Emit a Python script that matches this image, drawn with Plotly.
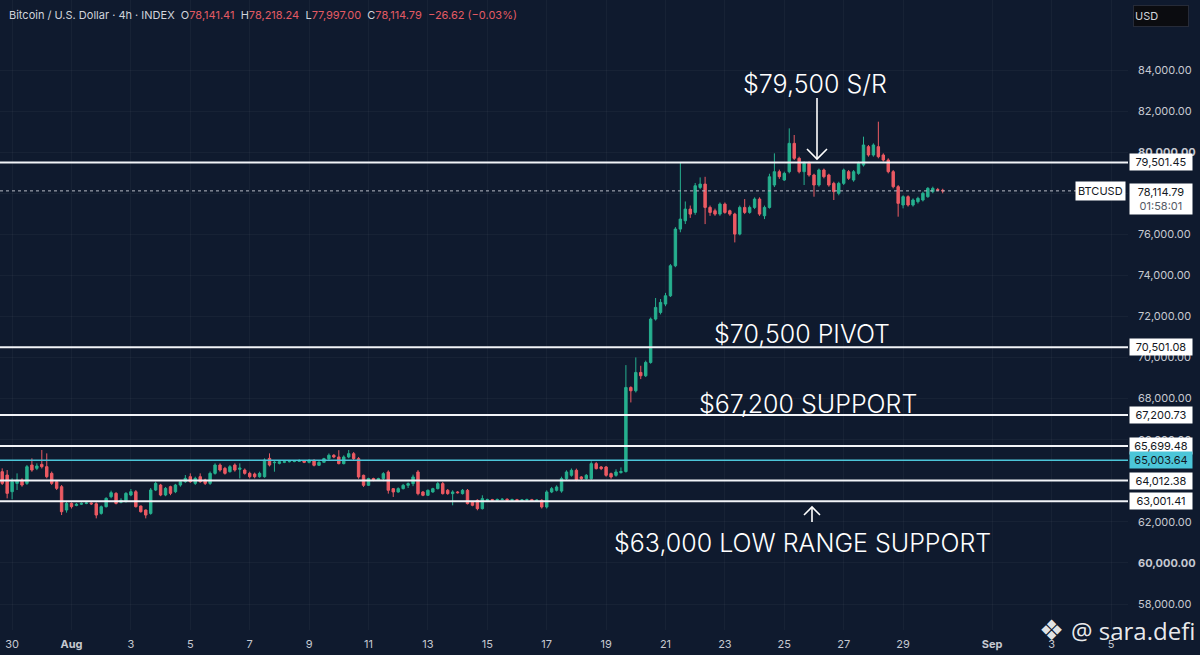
import pandas as pd
import plotly.graph_objects as go

# 4h BTCUSD candles, first bar Jul 29 16:00
opens = [64443, 64280, 63469, 63875, 64037, 63875, 64768, 64606, 64800, 64687,
         64362, 63956, 63713, 62577, 62901, 62800, 62860, 62900, 62920, 62880,
         62414, 62739, 63226, 63388, 62950, 62983, 63307, 63469, 62770, 62577,
         62414, 63551, 63794, 63307, 63713, 63469, 63794, 63956, 64200, 63875,
         64200, 64037, 63875, 64362, 64768, 64606, 64443, 64768, 64560, 64524,
         64362, 64330, 64200, 64200, 65092, 64880, 64849, 64900, 64930, 64940,
         64950, 64970, 64900, 64998, 64755, 64900, 65079, 65242, 65160, 64836,
         65160, 65320, 65079, 64268, 63781, 64106, 64024, 64106, 64430, 63619,
         63456, 63619, 63781, 63862, 64430, 63456, 63294, 63456, 63619, 63862,
         63538, 63375, 63456, 63375, 63538, 62970, 63051, 62645, 63051, 63080,
         63060, 63090, 63100, 63060, 63080, 63040, 63070, 63080, 63030, 63051,
         62726, 63456, 63538, 63500, 64106, 64268, 64511, 64187, 64106, 64106,
         64836, 64673, 64673, 64349, 64268, 64400, 64450, 68546, 68383, 69276,
         69114, 69763, 71873, 72197, 72603, 73009, 74470, 76255, 76660, 77229,
         77066, 78284, 78446, 77310, 77148, 76985, 77472, 77148, 76985, 76011,
         77310, 77066, 77310, 77716, 76904, 77310, 78400, 79049, 78644, 79049,
         80429, 79699, 79049, 79455, 78887, 78400, 79131, 78887, 78481, 77995,
         78481, 79049, 78644, 78968, 79374, 80267, 79861, 80267, 79861, 79617,
         79049, 78319, 77427, 77832, 77427, 77589, 77670, 77832, 78076, 78180,
         78141.41]
highs = [64606, 64524, 64118, 64362, 64118, 64770, 65092, 64849, 65500, 65336,
         64450, 64037, 63794, 63000, 62950, 62920, 62950, 62980, 62950, 62950,
         62800, 63200, 63520, 63450, 63150, 63450, 63600, 63550, 62800, 62600,
         63650, 63956, 63850, 63700, 63760, 63850, 64037, 64281, 64362, 64200,
         64362, 64100, 64450, 64850, 64849, 64680, 64768, 64849, 64849, 64600,
         64443, 64400, 64443, 65092, 65336, 65011, 65011, 64980, 64990, 65000,
         65050, 65010, 65050, 65050, 64960, 65120, 65330, 65300, 65490, 65240,
         65500, 65400, 65160, 64300, 64150, 64150, 64150, 64420, 64510, 63650,
         63680, 63850, 63920, 64300, 64520, 63500, 63580, 63660, 63943, 63943,
         63600, 63538, 63500, 63600, 63600, 63000, 63100, 63294, 63132, 63120,
         63140, 63160, 63150, 63130, 63120, 63110, 63130, 63120, 63100, 63100,
         63538, 63700, 63780, 64200, 64510, 64600, 64592, 64230, 64330, 64950,
         64917, 64720, 64720, 64400, 64560, 64650, 69633, 68600, 70006, 69600,
         69850, 71950, 72900, 72850, 73150, 74550, 76350, 79501, 77600, 77400,
         78500, 78770, 78800, 77400, 77250, 77550, 77550, 77200, 77050, 77400,
         77716, 77400, 77800, 77800, 77400, 78950, 79942, 79150, 79050, 81159,
         80835, 79780, 79550, 79550, 78950, 79200, 79200, 78950, 78560, 78560,
         79200, 79131, 79131, 79540, 80754, 80348, 80430, 81484, 79942, 79700,
         79130, 78400, 77900, 77900, 77750, 77830, 78076, 78300, 78320, 78260,
         78218.24]
lows = [63794, 63145, 63100, 63551, 63713, 63800, 64440, 64520, 64600, 64120,
        63800, 63551, 62333, 62450, 62650, 62760, 62820, 62860, 62820, 62171,
        62350, 62700, 63150, 62850, 62900, 62950, 63250, 62700, 62450, 62171,
        62350, 63500, 63250, 63250, 63300, 63400, 63713, 63900, 63900, 63800,
        63900, 63794, 63800, 64300, 64443, 64300, 64400, 64443, 64118, 64300,
        64118, 64120, 64150, 64150, 64700, 64443, 64800, 64860, 64890, 64900,
        64920, 64860, 64850, 64700, 64720, 64880, 64960, 65100, 64800, 64800,
        65100, 65000, 64100, 63700, 63750, 63980, 63990, 63980, 63375, 63213,
        63420, 63580, 63650, 63740, 63294, 63250, 63260, 63420, 63580, 63330,
        63320, 62807, 63380, 63330, 62850, 62760, 62564, 62600, 63000, 63020,
        63030, 63050, 63020, 63030, 63000, 63010, 63030, 62990, 62990, 62650,
        62650, 63400, 63480, 63420, 64050, 64200, 63980, 64050, 64050, 64050,
        64550, 64520, 64200, 64100, 64200, 64350, 64400, 67815, 68300, 68951,
        69050, 69700, 71800, 72100, 72500, 72950, 74400, 76100, 76500, 76800,
        76950, 78200, 76498, 76900, 76900, 76900, 77000, 76900, 75606, 75950,
        76985, 77000, 77230, 76900, 76742, 77250, 78300, 78700, 78600, 78968,
        79617, 78968, 78400, 78806, 77832, 78320, 78725, 78319, 77670, 77900,
        78400, 78644, 78560, 78900, 79300, 79780, 79780, 79700, 79540, 78968,
        78238, 76858, 77264, 77350, 77350, 77500, 77600, 77780, 78000, 78100,
        77997.00]
closes = [63875, 63388, 63956, 64037, 63794, 64687, 64524, 64720, 64687, 64200,
          63875, 63632, 62495, 62901, 62739, 62860, 62900, 62920, 62880, 62333,
          62739, 63145, 63420, 62901, 63050, 63388, 63469, 62739, 62495, 62333,
          63551, 63875, 63307, 63632, 63388, 63794, 63956, 64118, 63956, 64118,
          63956, 63875, 64362, 64768, 64524, 64362, 64687, 64524, 64620, 64362,
          64200, 64200, 64362, 65011, 64768, 64900, 64930, 64930, 64940, 64950,
          64970, 64900, 64998, 64755, 64900, 65079, 65242, 65160, 64836, 65160,
          65320, 65079, 64187, 63781, 64106, 64060, 64106, 64349, 63538, 63456,
          63619, 63781, 63862, 64187, 63375, 63294, 63538, 63619, 63862, 63375,
          63375, 63456, 63420, 63538, 62888, 62807, 62645, 63132, 63080, 63060,
          63090, 63100, 63060, 63080, 63040, 63070, 63080, 63030, 63060, 62726,
          63456, 63619, 63700, 64106, 64430, 64511, 64024, 64106, 64268, 64836,
          64592, 64592, 64268, 64187, 64430, 64450, 68546, 68383, 69276, 69114,
          69763, 71873, 72441, 72684, 73009, 74470, 76255, 76742, 77229, 76985,
          78365, 78446, 77310, 77066, 76985, 77472, 77066, 76985, 76011, 77310,
          77066, 77310, 77716, 76985, 77310, 78800, 79049, 78806, 78968, 80429,
          79699, 79049, 79455, 78887, 78400, 79131, 78806, 78400, 78076, 78481,
          79131, 78725, 79049, 79455, 80348, 79861, 80348, 79780, 79617, 79049,
          78319, 77508, 77832, 77427, 77670, 77751, 77995, 78238, 78238, 78141,
          78114.79]

levels = [79501.45, 70501.08, 67200.73, 65699.48, 64012.38, 63001.41]
cyan_level = 65003.64
last_price = 78114.79

price_ticks = [58000, 60000, 62000, 64000, 66000, 68000, 70000, 72000,
               74000, 76000, 78000, 80000, 82000, 84000]
hidden_ticks = [64000, 78000]  # fully covered by the price boxes
date_ticks = ["2024-07-30", "2024-08-01", "2024-08-03", "2024-08-05", "2024-08-07",
              "2024-08-09", "2024-08-11", "2024-08-13", "2024-08-15", "2024-08-17",
              "2024-08-19", "2024-08-21", "2024-08-23", "2024-08-25", "2024-08-27",
              "2024-08-29", "2024-09-01", "2024-09-03", "2024-09-05"]
date_labels = ["30", "Aug", "3", "5", "7", "9", "11", "13", "15", "17", "19",
               "21", "23", "25", "27", "29", "Sep", "3", "5"]

BG = "#0f1a2e"
UP = "#26b08f"
DOWN = "#ec5a63"
CYAN = "#4cc6d9"
FONT = "Inter"
W, H = 1128, 630  # plot area in px


def px(x):
    return x / W


def py(y):
    return 1 - y / H


times = pd.date_range("2024-07-29 16:00", periods=len(opens), freq="4h")

fig = go.Figure()
fig.add_trace(go.Candlestick(
    x=times, open=opens, high=highs, low=lows, close=closes,
    increasing=dict(line=dict(color=UP, width=1), fillcolor=UP),
    decreasing=dict(line=dict(color=DOWN, width=1), fillcolor=DOWN),
    whiskerwidth=0, hoverinfo="skip"))

shapes = []
for lv in levels:
    shapes.append(dict(type="line", xref="paper", x0=0, x1=1, yref="y", y0=lv, y1=lv,
                       line=dict(color="#f2f4f8", width=2)))
shapes.append(dict(type="line", xref="paper", x0=0, x1=1, yref="y", y0=cyan_level,
                   y1=cyan_level, line=dict(color=CYAN, width=1.6)))
shapes.append(dict(type="line", xref="paper", x0=0, x1=1, yref="y", y0=last_price,
                   y1=last_price, line=dict(color="#b8bcc6", width=1, dash="dot")))
# arrows
arrow = dict(color="white", width=1.6)
shapes += [
    dict(type="line", xref="paper", yref="paper", x0=px(817), x1=px(817), y0=py(98), y1=py(159), line=arrow),
    dict(type="path", xref="paper", yref="paper",
         path=f"M {px(807)} {py(149)} L {px(817)} {py(159)} L {px(827)} {py(149)}", line=arrow),
    dict(type="line", xref="paper", yref="paper", x0=px(812), x1=px(812), y0=py(522), y1=py(507), line=arrow),
    dict(type="path", xref="paper", yref="paper",
         path=f"M {px(804)} {py(515)} L {px(812)} {py(507)} L {px(820)} {py(515)}", line=arrow),
]

ann = []
box_font = dict(family=FONT, size=11, color="#131722")
for lv in levels:
    ann.append(dict(xref="paper", x=1, xanchor="left", xshift=1, yref="y", y=lv,
                    text=f"{lv:,.2f}", showarrow=False, font=box_font,
                    bgcolor="white", width=60, borderpad=1))
ann.append(dict(xref="paper", x=1, xanchor="left", xshift=1, yref="y", y=cyan_level,
                text=f"{cyan_level:,.2f}", showarrow=False, font=box_font,
                bgcolor=CYAN, width=60, borderpad=1))
ann.append(dict(xref="paper", x=1, xanchor="left", xshift=1, yref="y", y=last_price,
                yanchor="top", yshift=8,
                text=f"{last_price:,.2f}<br><span style='color:#555a66'>01:58:01</span>",
                showarrow=False, font=box_font, bgcolor="white", width=60, borderpad=1))
ann.append(dict(xref="paper", x=1, xanchor="right", xshift=-2, yref="y", y=last_price,
                text="BTCUSD", showarrow=False, font=box_font, bgcolor="white", borderpad=2))
ann.append(dict(xref="paper", x=1, xanchor="left", xshift=5, yref="paper", y=py(5),
                yanchor="top", text="USD", showarrow=False, align="left", width=52, height=18,
                font=dict(family=FONT, size=11, color="#d1d4dc"),
                bgcolor="#0b0c10", bordercolor="#262b38", borderwidth=1))

red = "color:#e35a64"
sp = "\u00a0"
header = (f"Bitcoin / U.S. Dollar · 4h · INDEX{sp*2}O<span style='{red}'>78,141.41</span>"
          f"{sp*2}H<span style='{red}'>78,218.24</span>{sp*2}L<span style='{red}'>77,997.00</span>"
          f"{sp*2}C<span style='{red}'>78,114.79</span>{sp*2}<span style='{red}'>−26.62 (−0.03%)</span>")
ann.append(dict(xref="paper", yref="paper", x=px(7), y=py(15), xanchor="left", yanchor="middle",
                text=header, showarrow=False, font=dict(family=FONT, size=11, color="#d1d4dc")))

big = dict(family=FONT, size=25, color="white", weight=300)
for txt, cx, cy in [("$79,500 S/R", 815, 84), ("$70,500 PIVOT", 802, 334),
                    ("$67,200 SUPPORT", 808, 404), ("$63,000 LOW RANGE SUPPORT", 802, 543)]:
    ann.append(dict(xref="paper", yref="paper", x=px(cx), y=py(cy), text=txt,
                    xanchor="center", yanchor="middle", showarrow=False, font=big))

ann.append(dict(xref="paper", yref="paper", x=px(1051), y=py(630), text="❖", showarrow=False,
                xanchor="center", yanchor="middle",
                font=dict(family="DejaVu Sans", size=28, color="rgba(255,255,255,0.9)")))
ann.append(dict(xref="paper", yref="paper", x=px(1197), xanchor="right", y=py(630),
                yanchor="middle", text="@ sara.defi", showarrow=False,
                font=dict(family="Open Sans", size=24, color="rgba(255,255,255,0.92)")))

origin = pd.Timestamp("2024-08-01")
x0 = origin - pd.Timedelta(days=71.5 / 29.7)
x1 = origin + pd.Timedelta(days=(W - 71.5) / 29.7)
y_top = 84000 + 70 / 0.02054
y_bot = 84000 - (H - 70) / 0.02054

bold_x = {"Aug", "Sep"}
bold_y = {60000, 80000}


def ylabel(v):
    if v in hidden_ticks:
        return ""
    if v in bold_y:
        return f"<b>{v:,.2f}</b>"
    return f"{v:,.2f}"


fig.update_layout(
    width=1200, height=655,
    margin=dict(l=0, r=1200 - W, t=0, b=655 - H),
    paper_bgcolor=BG, plot_bgcolor=BG,
    showlegend=False, shapes=shapes, annotations=ann,
    font=dict(family=FONT, size=11, color="#c6c9d1"),
    xaxis=dict(type="date", range=[x0, x1], rangeslider=dict(visible=False),
               tickvals=date_ticks,
               ticktext=[f"<b>{t}</b>" if t in bold_x else t for t in date_labels],
               showgrid=True, gridcolor="rgba(255,255,255,0.035)", zeroline=False,
               showline=False, ticks="", ticklabelstandoff=6,
               tickfont=dict(family=FONT, size=11, color="#c6c9d1")),
    yaxis=dict(side="right", range=[y_bot, y_top], tickvals=price_ticks,
               ticktext=[ylabel(v) for v in price_ticks],
               showgrid=True, gridcolor="rgba(255,255,255,0.035)", zeroline=False,
               showline=False, ticks="", ticklabelstandoff=9,
               tickfont=dict(family=FONT, size=11, color="#c6c9d1")),
)

fig.write_html("out.html", config={"displayModeBar": False},
               post_script="document.body.style.margin='0';document.body.style.overflow='hidden';")
